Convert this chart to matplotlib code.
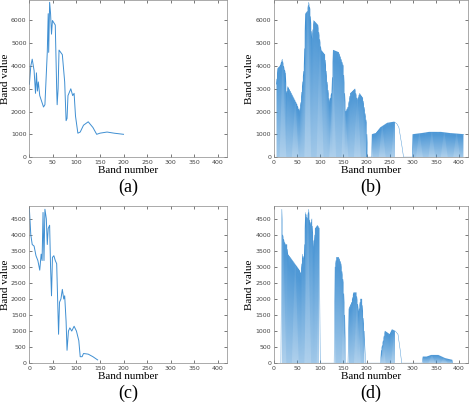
import numpy as np
import matplotlib.pyplot as plt

plt.rcParams['font.family'] = ['Liberation Serif', 'DejaVu Serif']

# (a) original spectrum
a_band = [0, 3, 6, 10, 13, 15, 17, 19, 22, 30, 33, 38, 40, 41, 43, 45, 47, 49, 55, 58, 59, 61, 63,
          70, 75, 78, 80, 82, 88, 92, 95, 98, 103, 108, 115, 125, 135, 143, 150, 165, 180, 200]
a_val = [3200, 4000, 4300, 3800, 2800, 3700, 2900, 3300, 2700, 2200, 2300, 4600, 6300, 4600, 6800,
         6300, 5400, 6000, 5800, 3000, 2300, 3000, 4700, 4500, 3300, 1600, 1700, 2700, 3000, 2700,
         2800, 1800, 1050, 1100, 1400, 1550, 1300, 1000, 1050, 1100, 1050, 1000]

# (c) original spectrum
c_band = [0, 3, 6, 10, 14, 18, 22, 25, 27, 29, 31, 33, 36, 38, 40, 43, 45, 47, 49, 52, 55, 58, 60,
          62, 64, 67, 70, 73, 75, 78, 80, 83, 86, 90, 95, 100, 105, 108, 112, 115, 125, 135, 145]
c_val = [4800, 4000, 3700, 3650, 3350, 3200, 2900, 3400, 3200, 4700, 3200, 4800, 4500, 3700, 4200,
         4300, 3000, 2100, 3300, 3350, 3200, 3100, 2000, 900, 1900, 2000, 2300, 2000, 2100, 1300,
         400, 1000, 1100, 1000, 1150, 1000, 700, 200, 200, 300, 280, 200, 100]

# (b) envelope of the reconstructed spectrum
b_band = [5, 8, 13, 18, 22, 25, 27, 30, 40, 50, 55, 58, 65, 68, 72, 75, 78, 82, 86, 95, 102, 110,
          115, 120, 125, 128, 140, 150, 155, 160, 165, 170, 175, 180, 185, 192, 200, 203, 211, 212,
          220, 230, 245, 260, 266, 270, 275, 280, 299, 300, 320, 335, 360, 380, 410]
b_val = [3200, 3900, 4000, 4300, 3900, 3700, 2800, 3100, 2700, 2300, 2000, 2400, 4000, 6300, 6400,
         6800, 6500, 5200, 6000, 5800, 4700, 4500, 3300, 2400, 2900, 4700, 4600, 4000, 2000, 2200,
         2800, 2900, 3000, 2500, 2800, 2600, 1500, 0, 0, 1000, 1050, 1300, 1500, 1550, 1450, 1300,
         700, 0, 0, 1000, 1050, 1100, 1100, 1050, 1000]
b_osc = [(5, 203), (212, 262), (300, 410)]

# (d) envelope of the reconstructed spectrum
d_band = [15, 17, 19, 22, 25, 28, 30, 40, 50, 55, 58, 62, 65, 68, 72, 75, 78, 82, 86, 89, 94, 98,
          100, 130, 132, 135, 140, 145, 150, 153, 155, 160, 162, 168, 172, 178, 183, 187, 190, 195,
          198, 230, 232, 240, 250, 255, 262, 268, 272, 276, 320, 322, 330, 340, 355, 370, 385, 386]
d_val = [0, 4800, 4000, 3800, 3700, 3700, 3400, 3200, 3000, 2900, 2800, 3400, 3200, 4700, 4500,
         4800, 4300, 4500, 3600, 4200, 4300, 4200, 0, 0, 3000, 3300, 3300, 3100, 2500, 1500, 0, 0,
         1700, 1900, 2200, 2200, 1600, 2000, 2000, 1000, 0, 0, 400, 1000, 900, 1050, 1000, 900,
         500, 0, 0, 200, 200, 250, 250, 150, 100, 0]
d_osc = [(17, 98), (132, 153), (162, 196), (232, 262), (322, 385)]

color = '#3f8fd2'


def dense(band, val, osc):
    x = np.arange(band[0], band[-1] + 1, 0.5)
    y = np.interp(x, band, val)
    for lo, hi in osc:
        m = (x > lo) & (x < hi) & ((x * 2).astype(int) % 4 == 1)
        y[m] = 0
    return x, y


def style(ax, ymax, yt):
    ax.set_xlim(0, 420)
    ax.set_ylim(0, ymax)
    ax.set_xticks(range(0, 401, 50))
    ax.set_yticks(yt)
    ax.tick_params(direction='in', top=True, right=True, labelsize=4.5, length=2,
                   width=0.5, colors='#444444', pad=2)
    for lbl in ax.get_xticklabels() + ax.get_yticklabels():
        lbl.set_family('DejaVu Sans')
    for s in ax.spines.values():
        s.set_linewidth(0.5)
        s.set_color('#888888')
    ax.set_xlabel('Band number', fontsize=8, labelpad=1)
    ax.set_ylabel('Band value', fontsize=8, labelpad=1)


fig = plt.figure(figsize=(4.74, 4.08), dpi=100)
axa = fig.add_axes([0.062, 0.615, 0.417, 0.385])
axb = fig.add_axes([0.578, 0.615, 0.410, 0.385])
axc = fig.add_axes([0.062, 0.110, 0.417, 0.385])
axd = fig.add_axes([0.578, 0.110, 0.410, 0.385])

axa.plot(a_band, a_val, color=color, lw=0.7)
style(axa, 6900, range(0, 6001, 1000))
xb, yb = dense(b_band, b_val, b_osc)
axb.plot(xb, yb, color=color, lw=0.3)
style(axb, 6900, range(0, 6001, 1000))
axc.plot(c_band, c_val, color=color, lw=0.7)
style(axc, 4900, range(0, 4501, 500))
xd, yd = dense(d_band, d_val, d_osc)
axd.plot(xd, yd, color=color, lw=0.3)
style(axd, 4900, range(0, 4501, 500))

for ax, t in [(axa, '(a)'), (axb, '(b)'), (axc, '(c)'), (axd, '(d)')]:
    ax.text(0.5, -0.14, t, transform=ax.transAxes, ha='center', va='top', fontsize=13)

fig.savefig('out.png', dpi=100)
